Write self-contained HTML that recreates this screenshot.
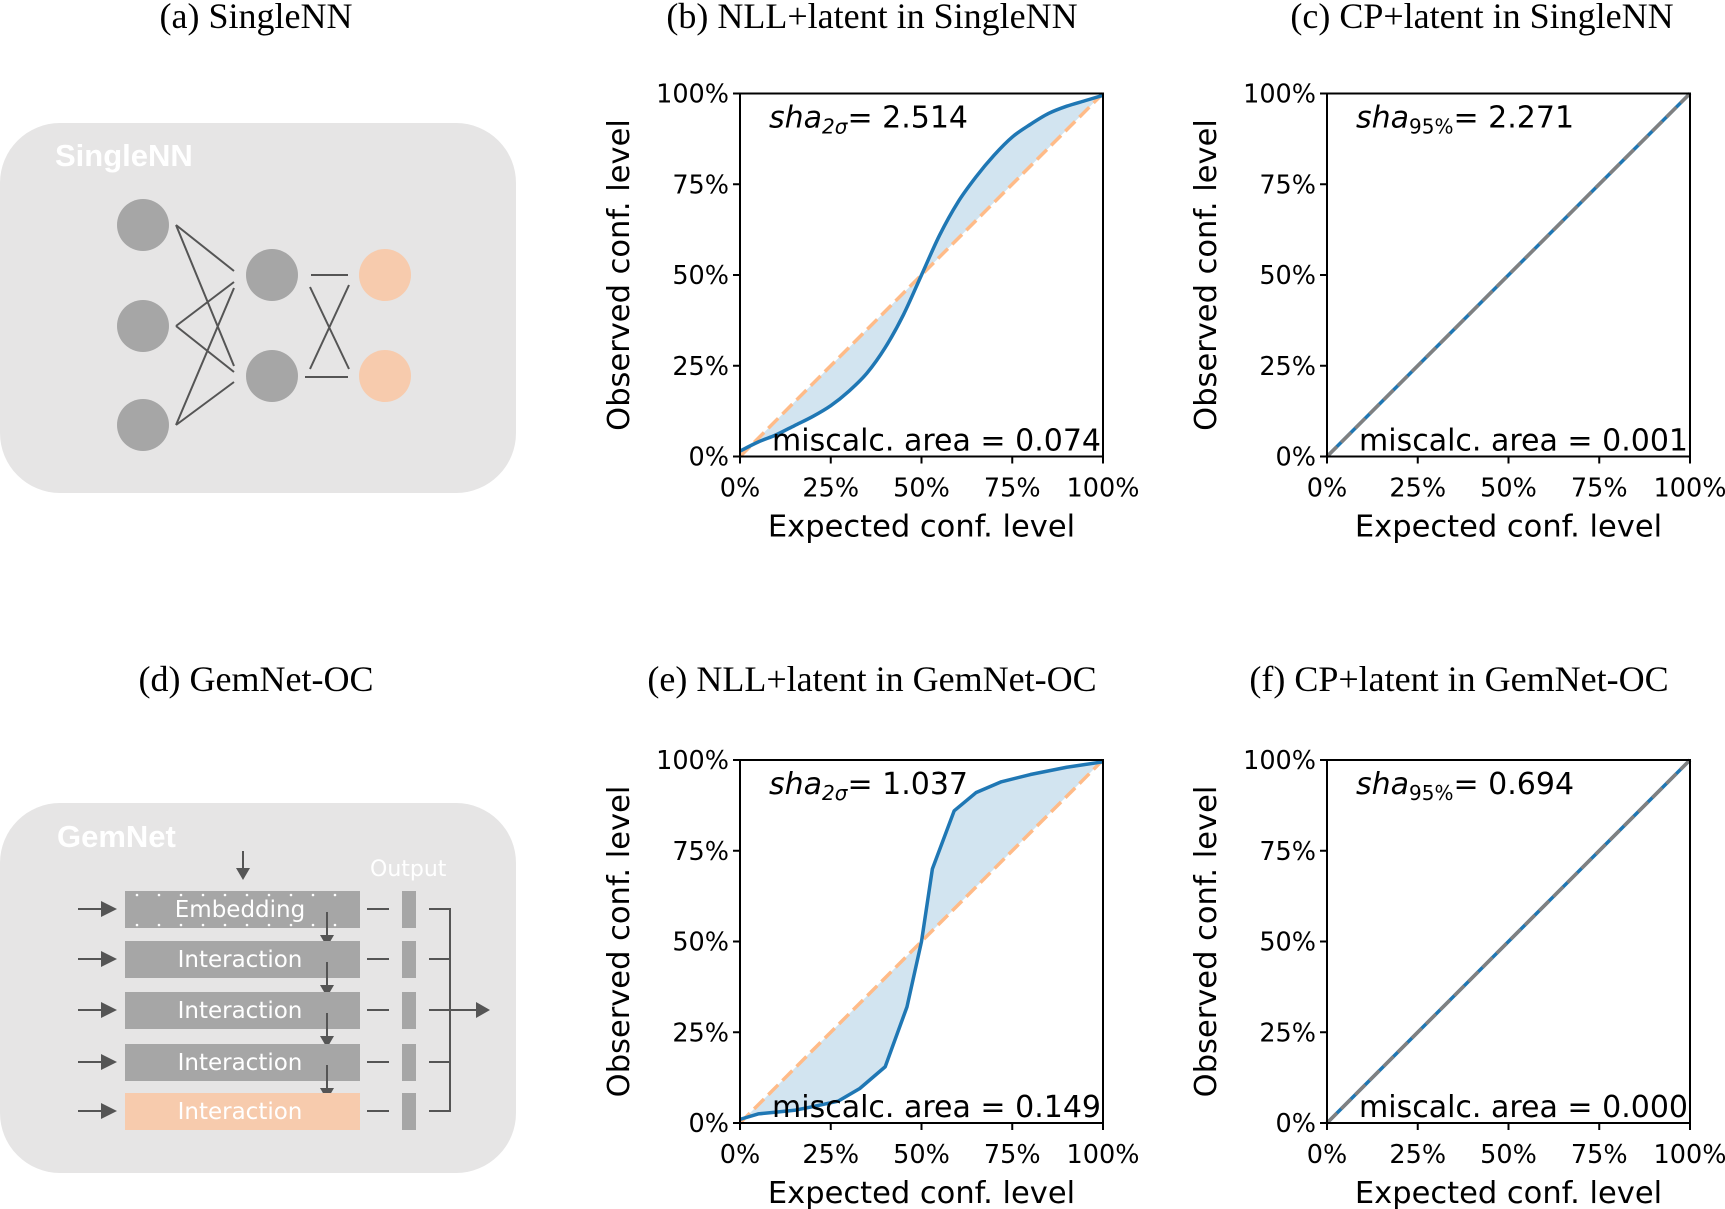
<!DOCTYPE html>
<html><head><meta charset="utf-8"><style>
body{margin:0;background:#fff}
svg{display:block}
.tk{font-family:"DejaVu Sans",sans-serif;font-size:25.5px;fill:#000}
.al{font-family:"DejaVu Sans",sans-serif;font-size:30.5px;fill:#000}
.tt{font-family:"Liberation Serif",serif;font-size:36px;fill:#000}
.an{font-family:"DejaVu Sans",sans-serif;font-size:30px;fill:#000}
</style></head><body>
<svg id="fig" width="1725" height="1209" viewBox="0 0 1725 1209" xmlns="http://www.w3.org/2000/svg">
<text class="tt" x="256" y="28" text-anchor="middle">(a) SingleNN</text>
<text class="tt" x="872" y="28" text-anchor="middle">(b) NLL+latent in SingleNN</text>
<text class="tt" x="1482" y="28" text-anchor="middle">(c) CP+latent in SingleNN</text>
<text class="tt" x="256" y="691" text-anchor="middle">(d) GemNet-OC</text>
<text class="tt" x="872" y="691" text-anchor="middle">(e) NLL+latent in GemNet-OC</text>
<text class="tt" x="1459" y="691" text-anchor="middle">(f) CP+latent in GemNet-OC</text>

<g>
<rect x="0" y="123" width="516" height="370" rx="60" fill="#e6e5e5"/>
<text x="55" y="166" font-family="Liberation Sans,sans-serif" font-weight="bold" font-size="31" fill="#fff">SingleNN</text>
<g stroke="#555" stroke-width="2" fill="none">
<path d="M176 225L234 271M176 225L234 366M176 326L234 282M176 326L234 372M176 425L234 288M176 425L234 382"/>
<path d="M311 275H348M305 377H348M310 287L349 369M349 285L310 369"/>
</g>
<g fill="#a6a6a6">
<circle cx="143" cy="225" r="26"/><circle cx="143" cy="326" r="26"/><circle cx="143" cy="425" r="26"/>
<circle cx="272" cy="275" r="26"/><circle cx="272" cy="376" r="26"/>
</g>
<g fill="#f7cbad">
<circle cx="385" cy="275" r="26"/><circle cx="385" cy="376" r="26"/>
</g>
</g>

<g>
<rect x="0" y="803" width="516" height="370" rx="60" fill="#e6e5e5"/>
<text x="57" y="847" font-family="Liberation Sans,sans-serif" font-weight="bold" font-size="31" fill="#fff">GemNet</text>
<text x="370" y="876" font-family="DejaVu Sans,sans-serif" font-size="22" fill="#fff">Output</text>
<g id="gemrows"></g>
<path d="M243 851V870" stroke="#555" stroke-width="2"/><path d="M236 868L250 868L243 880Z" fill="#555"/>
<path d="M429 909H450V1111H429M429 959H450M429 1062H450M429 1010H478" stroke="#555" stroke-width="2" fill="none"/>
<path d="M476 1002L490 1010L476 1018Z" fill="#555"/>
</g>

<g id="plots"></g>
</svg>
<script>
const xTicks = [0, 25, 50, 75, 100];
const yTicks = [0, 25, 50, 75, 100];
const tickLabels = ["0%", "25%", "50%", "75%", "100%"];
const nllSingleX = [0,5,10,15,20,25,30,35,40,45,50,55,60,65,70,75,80,85,90,95,100];
const nllSingleY = [1.5,4,6,8.5,11,14,18,23,30,39,50,61,70,77,83,88,91.5,94.5,96.5,98,99.5];
const nllGemX = [0,5,10,15,20,27,33,40,46,50,53,59,65,72,80,90,100];
const nllGemY = [1,2.5,3,3.5,4.5,6,9.5,15.5,32,50,70,86,91,94,96,98,99.5];
const cpSingleX = [0,25,50,75,100];
const cpSingleY = [0,25,50,75,100];
const cpGemX = [0,25,50,75,100];
const cpGemY = [0,25,50,75,100];
const shaValues = ["2.514","2.271","1.037","0.694"];
const areaValues = ["0.074","0.001","0.149","0.000"];

const NS = "http://www.w3.org/2000/svg";
function mk(tag, attrs, parent){const e=document.createElementNS(NS,tag);for(const k in attrs)e.setAttribute(k,attrs[k]);parent.appendChild(e);return e;}

const gr = document.getElementById('gemrows');
const rowYs = [909,959,1010,1062,1111];
const rowLabels = ["Embedding","Interaction","Interaction","Interaction","Interaction"];
rowYs.forEach((cy,i)=>{
  const g = mk('g',{},gr);
  
  
  mk('path',{d:`M78 ${cy}H105`,stroke:'#555','stroke-width':2},g);
  mk('path',{d:`M101 ${cy-8}L117 ${cy}L101 ${cy+8}Z`,fill:'#555'},g);
  mk('rect',{x:125,y:cy-18,width:235,height:37,fill:i==4?'#f7cbad':'#a6a6a6'},g);
  if(i==0){for(let k=0;k<10;k++){mk('circle',{cx:137+k*22,cy:cy-14,r:1.3,fill:'#fff'},g);mk('circle',{cx:137+k*22,cy:cy+16,r:1.3,fill:'#fff'},g);}}
  const t = mk('text',{x:240,y:cy+8,'text-anchor':'middle','font-family':'DejaVu Sans,sans-serif','font-size':23,fill:'#fff'},g);
  t.textContent = rowLabels[i];
  mk('path',{d:`M367 ${cy}H389`,stroke:'#555','stroke-width':2},g);
  mk('rect',{x:402,y:cy-18,width:14,height:37,fill:'#a6a6a6'},g);
  if(i<4){mk('path',{d:`M327 ${cy+3}V${cy+28}`,stroke:'#555','stroke-width':2},g);mk('path',{d:`M320 ${cy+26}L334 ${cy+26}L327 ${cy+38}Z`,fill:'#555'},g);}
});

function pathFor(pts, smooth){
  if(!smooth) return 'M'+pts.map(p=>p[0]+' '+p[1]).join('L');
  let d='M'+pts[0][0]+' '+pts[0][1];
  for(let i=0;i<pts.length-1;i++){
    const p0=pts[Math.max(0,i-1)],p1=pts[i],p2=pts[i+1],p3=pts[Math.min(pts.length-1,i+2)];
    const c1=[p1[0]+(p2[0]-p0[0])/6,p1[1]+(p2[1]-p0[1])/6];
    const c2=[p2[0]-(p3[0]-p1[0])/6,p2[1]-(p3[1]-p1[1])/6];
    d+=`C${c1[0]} ${c1[1]} ${c2[0]} ${c2[1]} ${p2[0]} ${p2[1]}`;
  }
  return d;
}

function plot(name, x0, y0, xs, ys, sha, shaSub, area, cp, smooth){
  const W=363, H=363;
  const sx=v=>x0+v/100*W, sy=v=>y0+H-v/100*H;
  const g = mk('g',{},document.getElementById('plots'));
  
  
  const pts = xs.map((x,i)=>[sx(x),sy(ys[i])]);
  if(!cp){
    let d=pathFor(pts,smooth);
    d+='L'+[...xs].reverse().map(x=>sx(x)+' '+sy(x)).join('L')+'Z';
    const f=mk('path',{d:d,fill:'#1f77b4','fill-opacity':0.2},g);
    
    
    const diag=mk('path',{d:`M${sx(0)} ${sy(0)}L${sx(100)} ${sy(100)}`,stroke:'#ffbb88','stroke-width':3.5,'stroke-dasharray':'14 6',fill:'none'},g);
    
    
    const ln=mk('path',{d:pathFor(pts,smooth),stroke:'#1f77b4','stroke-width':3.5,fill:'none','stroke-linejoin':'round'},g);
    
    
  } else {
    const ln=mk('path',{d:pathFor(pts,false),stroke:'#1f77b4','stroke-width':3.5,fill:'none'},g);
    
    
    const diag=mk('path',{d:`M${sx(0)} ${sy(0)}L${sx(100)} ${sy(100)}`,stroke:'#808080','stroke-width':3.5,'stroke-dasharray':'14 6',fill:'none'},g);
    
    
  }
  const fr=mk('rect',{x:x0,y:y0,width:W,height:H,fill:'none',stroke:'#000','stroke-width':2},g);
  
  
  xTicks.forEach((v,i)=>{
    mk('path',{d:`M${sx(v)} ${y0+H}v7`,stroke:'#000','stroke-width':2},g);
    const t=mk('text',{x:sx(v),y:y0+H+40,'text-anchor':'middle',class:'tk'},g);
    t.textContent=tickLabels[i];
    
    
  });
  yTicks.forEach((v,i)=>{
    mk('path',{d:`M${x0} ${sy(v)}h-7`,stroke:'#000','stroke-width':2},g);
    const t=mk('text',{x:x0-11,y:sy(v)+9,'text-anchor':'end',class:'tk'},g);
    t.textContent=tickLabels[i];
    
    
  });
  const xl=mk('text',{x:x0+W/2,y:y0+H+80,'text-anchor':'middle',class:'al'},g);
  xl.textContent='Expected conf. level';
  
  
  const yl=mk('text',{x:0,y:0,'text-anchor':'middle',class:'al',transform:`translate(${x0-111},${y0+H/2}) rotate(-90)`},g);
  yl.textContent='Observed conf. level';
  
  
  const s=mk('text',{x:x0+29,y:y0+34,class:'an'},g);
  
  
  const s1=mk('tspan',{'font-style':'italic'},s); s1.textContent='sha';
  const s2=mk('tspan',{'font-size':20,dy:6,'font-style':shaSub==='2σ'?'italic':'normal'},s); s2.textContent=shaSub;
  const s3=mk('tspan',{dy:-6},s); s3.textContent='= '+sha;
  const a=mk('text',{x:x0+W-2,y:y0+H-6,'text-anchor':'end',class:'an'},g);
  a.textContent='miscalc. area = '+area;
  
  
}
plot('chart-b-nll-singlenn',740,93.5,nllSingleX,nllSingleY,shaValues[0],'2σ',areaValues[0],false,true);
plot('chart-c-cp-singlenn',1327,93.5,cpSingleX,cpSingleY,shaValues[1],'95%',areaValues[1],true,false);
plot('chart-e-nll-gemnet',740,760,nllGemX,nllGemY,shaValues[2],'2σ',areaValues[2],false,false);
plot('chart-f-cp-gemnet',1327,760,cpGemX,cpGemY,shaValues[3],'95%',areaValues[3],true,false);
</script>
</body></html>
